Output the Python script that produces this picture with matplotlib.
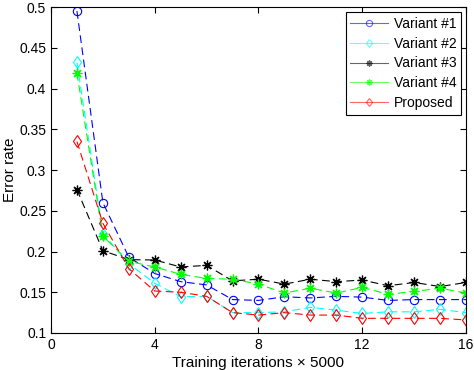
import matplotlib
matplotlib.use("Agg")
import matplotlib.pyplot as plt

plt.rcParams['font.family'] = ['Liberation Sans', 'DejaVu Sans']

iterations = list(range(1, 17))
variant1 = [0.495, 0.260, 0.193, 0.173, 0.163, 0.159, 0.141, 0.140, 0.1445, 0.143, 0.145, 0.144, 0.140, 0.141, 0.141, 0.141]
variant2 = [0.432, 0.222, 0.185, 0.161, 0.1445, 0.145, 0.125, 0.125, 0.126, 0.1315, 0.128, 0.124, 0.126, 0.126, 0.129, 0.125]
variant3 = [0.276, 0.201, 0.190, 0.1896, 0.181, 0.183, 0.164, 0.166, 0.160, 0.166, 0.163, 0.165, 0.158, 0.162, 0.157, 0.162]
variant4 = [0.419, 0.219, 0.188, 0.181, 0.172, 0.167, 0.166, 0.160, 0.149, 0.155, 0.149, 0.156, 0.1475, 0.151, 0.155, 0.149]
proposed = [0.335, 0.2346, 0.179, 0.1515, 0.150, 0.145, 0.125, 0.122, 0.125, 0.122, 0.122, 0.118, 0.118, 0.118, 0.118, 0.116]

labels = ["Variant #1", "Variant #2", "Variant #3", "Variant #4", "Proposed"]
xticks = [0, 4, 8, 12, 16]
yticks = [0.1, 0.15, 0.2, 0.25, 0.3, 0.35, 0.4, 0.45, 0.5]

fig = plt.figure(figsize=(4.74, 3.70), dpi=100)
ax = fig.add_axes([0.1076, 0.10, 0.8755, 0.881])

dash = (0, (7, 4))
asterisk = (8, 2, 0)
ax.plot(iterations, variant1, color='#0000ff', linestyle=dash, lw=0.8, marker='o', ms=6, mfc='none', mew=0.8, label=labels[0])
ax.plot(iterations, variant2, color='#00ffff', linestyle=dash, lw=0.8, marker='d', ms=6, mfc='none', mew=0.8, label=labels[1])
ax.plot(iterations, variant3, color='#000000', linestyle=dash, lw=0.8, marker=asterisk, ms=7, mew=0.9, label=labels[2])
ax.plot(iterations, variant4, color='#00ff00', linestyle=dash, lw=0.8, marker=asterisk, ms=7, mew=0.9, label=labels[3])
ax.plot(iterations, proposed, color='#ff0000', linestyle=dash, lw=0.8, marker='d', ms=6, mfc='none', mew=0.8, label=labels[4])

ax.set_xlim(0, 16)
ax.set_ylim(0.1, 0.5)
ax.set_xticks(xticks)
ax.set_xticklabels([str(t) for t in xticks])
ax.set_yticks(yticks)
ax.set_yticklabels(['0.1', '0.15', '0.2', '0.25', '0.3', '0.35', '0.4', '0.45', '0.5'])
ax.tick_params(direction='in', top=True, right=True, labelsize=10, length=4, width=0.8)
for s in ax.spines.values():
    s.set_linewidth(0.8)

ax.set_xlabel("Training iterations \u00d7 5000", fontsize=11, labelpad=3)
ax.set_ylabel("Error rate", fontsize=11)
ax.yaxis.set_label_coords(-0.082, 0.5)

leg = ax.legend(loc='upper right', fontsize=10, frameon=True, fancybox=False,
                edgecolor='black', framealpha=1, handlelength=2.7, borderpad=0.35,
                labelspacing=0.42, handletextpad=0.4, borderaxespad=0.35)
leg.get_frame().set_linewidth(0.8)
for l in leg.get_lines():
    l.set_linestyle('-')
    l.set_markersize(4.5)
    l.set_alpha(0.6)

fig.savefig("out.png", dpi=100)
